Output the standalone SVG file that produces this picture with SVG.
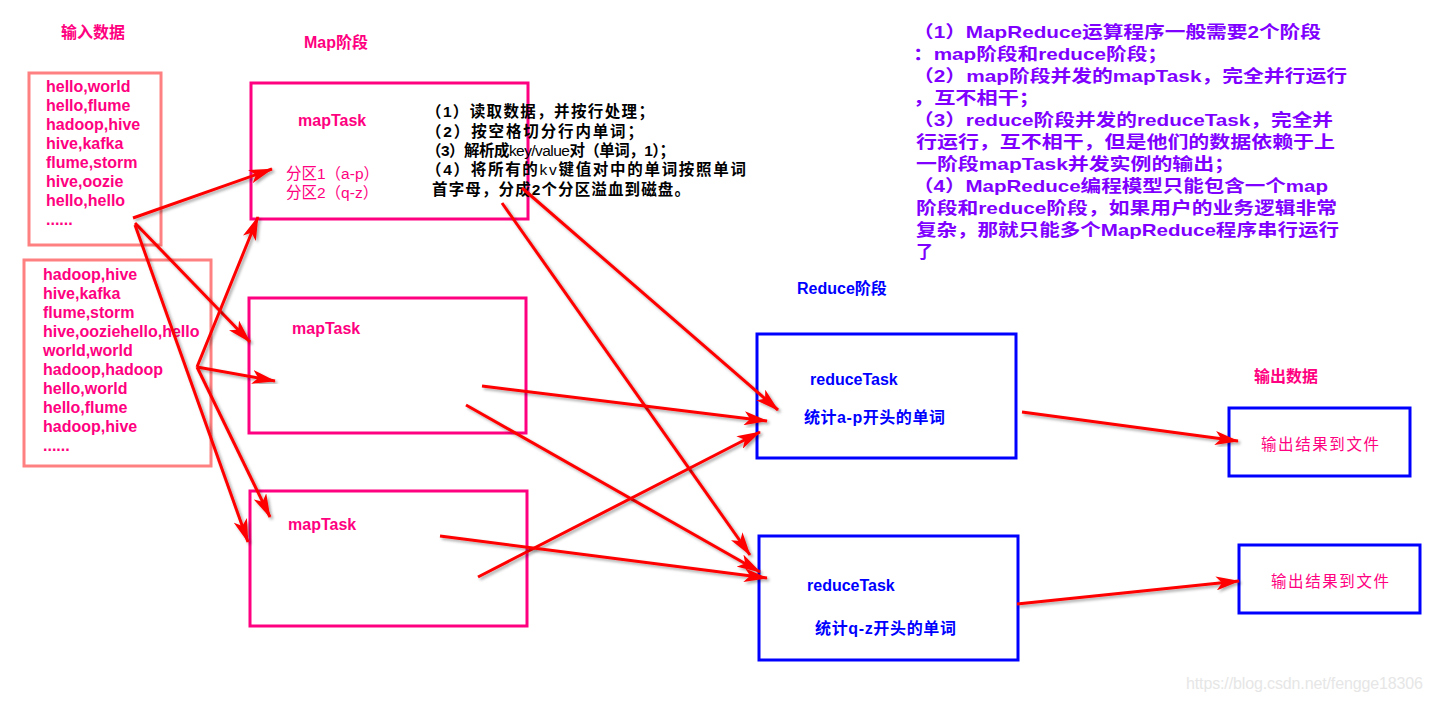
<svg xmlns="http://www.w3.org/2000/svg" width="1434" height="702" viewBox="0 0 1434 702">
<style>
.bg{fill:#ffffff}
.inbox{fill:none;stroke:#FF8080;stroke-width:3}
.mbox{fill:none;stroke:#FF0080;stroke-width:3}
.rbox{fill:none;stroke:#0000FF;stroke-width:3}
.pk{font-family:"Liberation Sans","Noto Sans CJK SC",sans-serif;font-size:16px;font-weight:bold;fill:#FF0080}
.pkn{font-family:"Liberation Sans","Noto Sans CJK SC",sans-serif;font-size:15.5px;fill:#FF0080}
.bk{font-family:"Liberation Sans","Noto Sans CJK SC",sans-serif;font-size:15.5px;font-weight:bold;fill:#000000}
.lt{font-weight:normal}
.pu{font-family:"Liberation Sans","Noto Sans CJK SC",sans-serif;font-size:17px;font-weight:bold;fill:#8000FF}
.bl{font-family:"Liberation Sans","Noto Sans CJK SC",sans-serif;font-size:16px;font-weight:bold;fill:#0000FF}
.wm{font-family:"Liberation Sans",sans-serif;font-size:16px;fill:#E6E6E6}
.ar{stroke:#FF0000;stroke-width:3;fill:none;marker-end:url(#ah);filter:url(#sh)}
</style>
<defs>
<marker id="ah" markerUnits="userSpaceOnUse" viewBox="0 0 24 14" markerWidth="24" markerHeight="14" refX="23" refY="7" orient="auto">
<path d="M0,0 L24,7 L0,14 L6,7 z" fill="#FF0000"/>
</marker>
<filter id="sh" x="-20%" y="-20%" width="140%" height="140%">
<feDropShadow dx="2" dy="2" stdDeviation="1.5" flood-color="#000" flood-opacity="0.35"/>
</filter>
</defs>
<rect class="bg" x="0" y="0" width="1434" height="702"/>

<g id="title-input"><text class="pk" x="61" y="38" font-size="17">输入数据</text></g>
<g id="title-map"><text class="pk" x="304" y="48">Map阶段</text></g>
<g id="title-reduce"><text class="bl" x="797" y="294">Reduce阶段</text></g>
<g id="title-output"><text class="pk" x="1254" y="382">输出数据</text></g>

<g id="input1">
<rect class="inbox" x="29" y="73" width="132" height="172"/>
<text class="pk" x="46" y="92">hello,world</text>
<text class="pk" x="46" y="111">hello,flume</text>
<text class="pk" x="46" y="130">hadoop,hive</text>
<text class="pk" x="46" y="149">hive,kafka</text>
<text class="pk" x="46" y="168">flume,storm</text>
<text class="pk" x="46" y="187">hive,oozie</text>
<text class="pk" x="46" y="206">hello,hello</text>
<text class="pk" x="46" y="225">......</text>
</g>

<g id="input2">
<rect class="inbox" x="24" y="260" width="187" height="206"/>
<text class="pk" x="43" y="280">hadoop,hive</text>
<text class="pk" x="43" y="299">hive,kafka</text>
<text class="pk" x="43" y="318">flume,storm</text>
<text class="pk" x="43" y="337">hive,ooziehello,hello</text>
<text class="pk" x="43" y="356">world,world</text>
<text class="pk" x="43" y="375">hadoop,hadoop</text>
<text class="pk" x="43" y="394">hello,world</text>
<text class="pk" x="43" y="413">hello,flume</text>
<text class="pk" x="43" y="432">hadoop,hive</text>
<text class="pk" x="43" y="451">......</text>
</g>

<g id="mapTask1">
<rect class="mbox" x="251" y="83" width="277" height="136"/>
<text class="pk" x="298" y="126">mapTask</text>
<text class="pkn" x="286" y="179" font-size="16">分区1（a-p）</text>
<text class="pkn" x="286" y="198" font-size="16">分区2（q-z）</text>
</g>

<g id="map-notes">
<text class="bk" x="426" y="117" textLength="228">（1）读取数据，并按行处理；</text>
<text class="bk" x="426" y="137" textLength="217">（2）按空格切分行内单词；</text>
<text class="bk" x="426" y="156" textLength="249">（3）解析成<tspan class="lt">key/value</tspan>对（单词，1）；</text>
<text class="bk" x="426" y="175" textLength="320">（4）将所有的<tspan class="lt">kv</tspan>键值对中的单词按照单词</text>
<text class="bk" x="432" y="195" textLength="258">首字母，分成2个分区溢血到磁盘。</text>
</g>

<g id="mapTask2">
<rect class="mbox" x="249" y="298" width="277" height="135"/>
<text class="pk" x="292" y="334">mapTask</text>
</g>

<g id="mapTask3">
<rect class="mbox" x="250" y="491" width="277" height="135"/>
<text class="pk" x="288" y="530">mapTask</text>
</g>

<g id="reduceTask1">
<rect class="rbox" x="757" y="334" width="259" height="124"/>
<text class="bl" x="810" y="385">reduceTask</text>
<text class="bl" x="804" y="423" textLength="141">统计a-p开头的单词</text>
</g>

<g id="reduceTask2">
<rect class="rbox" x="759" y="536" width="259" height="124"/>
<text class="bl" x="807" y="591">reduceTask</text>
<text class="bl" x="815" y="634" textLength="141">统计q-z开头的单词</text>
</g>

<g id="output1">
<rect class="rbox" x="1229" y="408" width="181" height="68"/>
<text class="pkn" x="1261" y="450" font-size="16" textLength="118">输出结果到文件</text>
</g>

<g id="output2">
<rect class="rbox" x="1239" y="545" width="181" height="68"/>
<text class="pkn" x="1271" y="587" font-size="16" textLength="118">输出结果到文件</text>
</g>

<g id="notes">
<text class="pu" x="913" y="38" textLength="408" lengthAdjust="spacingAndGlyphs">（1）MapReduce运算程序一般需要2个阶段</text>
<text class="pu" x="913" y="60" textLength="255" lengthAdjust="spacingAndGlyphs">：map阶段和reduce阶段；</text>
<text class="pu" x="913" y="82" textLength="434" lengthAdjust="spacingAndGlyphs">（2）map阶段并发的mapTask，完全并行运行</text>
<text class="pu" x="913" y="104" textLength="127" lengthAdjust="spacingAndGlyphs">，互不相干；</text>
<text class="pu" x="913" y="126" textLength="420" lengthAdjust="spacingAndGlyphs">（3）reduce阶段并发的reduceTask，完全并</text>
<text class="pu" x="916" y="148" textLength="419" lengthAdjust="spacingAndGlyphs">行运行，互不相干，但是他们的数据依赖于上</text>
<text class="pu" x="916" y="170" textLength="319" lengthAdjust="spacingAndGlyphs">一阶段mapTask并发实例的输出；</text>
<text class="pu" x="913" y="192" textLength="415" lengthAdjust="spacingAndGlyphs">（4）MapReduce编程模型只能包含一个map</text>
<text class="pu" x="916" y="214" textLength="421" lengthAdjust="spacingAndGlyphs">阶段和reduce阶段，如果用户的业务逻辑非常</text>
<text class="pu" x="916" y="236" textLength="423" lengthAdjust="spacingAndGlyphs">复杂，那就只能多个MapReduce程序串行运行</text>
<text class="pu" x="916" y="258">了</text>
</g>

<g id="connectors">
<line class="ar" x1="133" y1="218" x2="272" y2="169"/>
<line class="ar" x1="135" y1="223" x2="250" y2="342"/>
<line class="ar" x1="135" y1="225" x2="248" y2="542"/>
<line class="ar" x1="197" y1="367" x2="258" y2="217"/>
<line class="ar" x1="197" y1="367" x2="275" y2="381"/>
<line class="ar" x1="197" y1="367" x2="270" y2="517"/>
<line class="ar" x1="522" y1="188" x2="778" y2="410"/>
<line class="ar" x1="502" y1="203" x2="750" y2="555"/>
<line class="ar" x1="482" y1="386" x2="767" y2="421"/>
<line class="ar" x1="466" y1="405" x2="760" y2="572"/>
<line class="ar" x1="478" y1="577" x2="760" y2="432"/>
<line class="ar" x1="440" y1="536" x2="767" y2="578"/>
<line class="ar" x1="1022" y1="412" x2="1238" y2="441"/>
<line class="ar" x1="1017" y1="604" x2="1239" y2="581"/>
</g>

<text class="wm" x="1186" y="689" textLength="237">https://blog.csdn.net/fengge18306</text>
</svg>
